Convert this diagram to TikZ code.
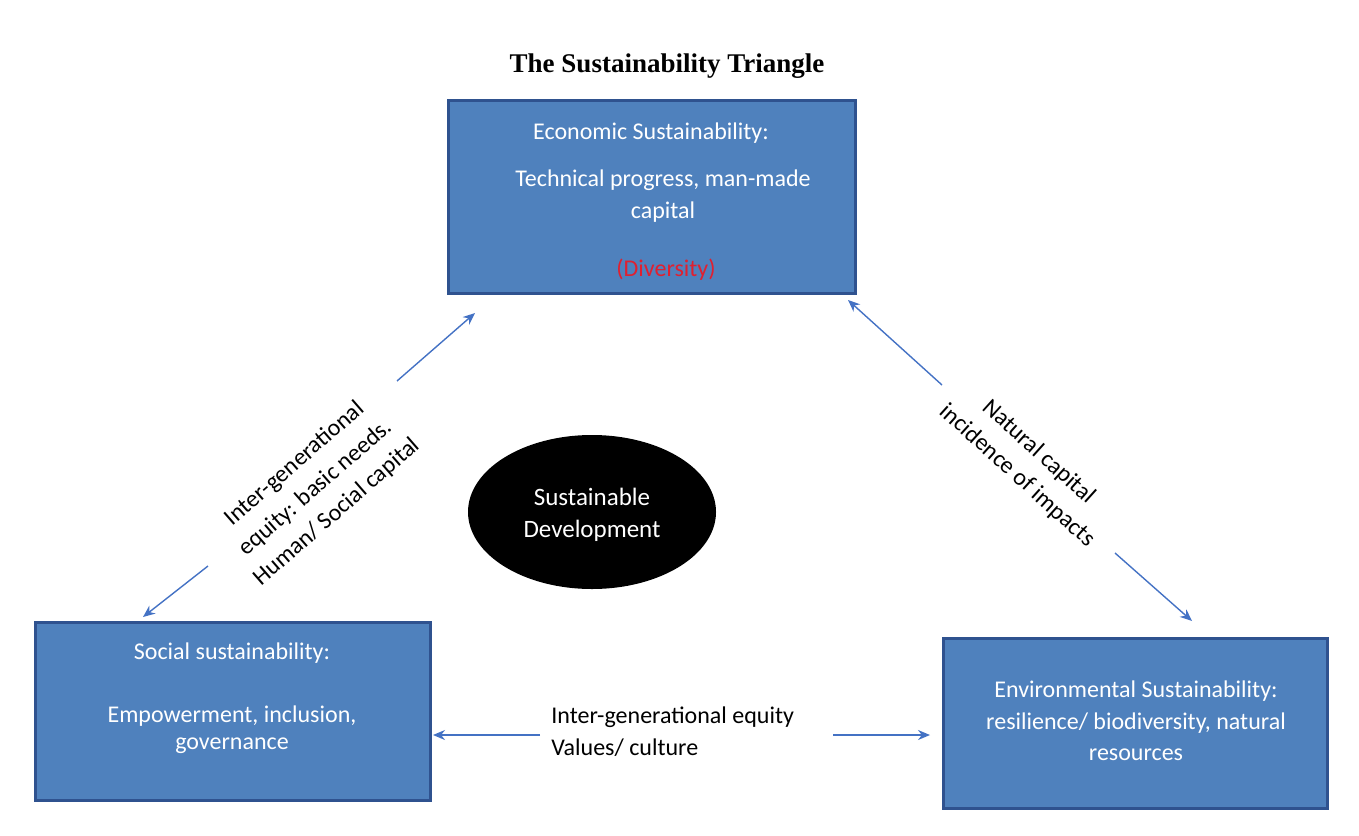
\documentclass[tikz,border=0pt]{standalone}
\usepackage{fontspec}
\setmainfont{Carlito}
\newfontfamily\titlefont{Liberation Serif}
\usetikzlibrary{arrows.meta,shapes.geometric}
\definecolor{boxfill}{HTML}{4F81BD}
\definecolor{boxline}{HTML}{2F528F}
\definecolor{arr}{HTML}{4472C4}
\definecolor{redtxt}{HTML}{E02030}
\begin{document}
\begin{tikzpicture}[x=0.5pt,y=-0.5pt,
  box/.style={draw=boxline,line width=1.5pt,fill=boxfill},
  wt/.style={text=white,font=\fontsize{12}{14}\selectfont,inner sep=0},
  bt/.style={text=black,font=\fontsize{12}{16}\selectfont,inner sep=0},
  ar/.style={draw=arr,line width=0.7pt,-{Stealth[length=6pt,width=5pt]}}]
\useasboundingbox (0,0) rectangle (1359,835);
\node[font=\titlefont\bfseries\fontsize{13.5}{15}\selectfont,inner sep=0] (title) at (667,66) {The Sustainability Triangle};
\draw[box] (448,100) rectangle (855,293);
\draw[box] (35,622) rectangle (430,800);
\draw[box] (943,638) rectangle (1327,808);
\node[ellipse,fill=black,minimum width=124pt,minimum height=77pt,inner sep=0] (sd) at (592,512) {};
\node[wt] (e1) at (651,133) {Economic Sustainability:};
\node[wt] (e2) at (663,180) {Technical progress, man-made};
\node[wt] (e3) at (663,212) {capital};
\node[wt,text=redtxt] (e4) at (666,270) {(Diversity)};
\node[wt] (s1) at (232,653) {Social sustainability:};
\node[wt] (s2) at (232,716) {Empowerment, inclusion,};
\node[wt] (s3) at (232,746) {governance};
\node[wt] (v1) at (1136,691) {Environmental Sustainability:};
\node[wt] (v2) at (1136,723) {resilience/ biodiversity, natural};
\node[wt] (v3) at (1136,755) {resources};
\node[wt,font=\fontsize{12.5}{14}\selectfont] (d1) at (592,497) {Sustainable};
\node[wt,font=\fontsize{12.5}{14}\selectfont] (d2) at (592,531) {Development};
\coordinate (a1) at (397,381); \coordinate (a2) at (475,313);
\coordinate (a3) at (208,566); \coordinate (a4) at (143,617);
\coordinate (b1) at (942,385); \coordinate (b2) at (848,300);
\coordinate (b3) at (1115,553); \coordinate (b4) at (1192,621);
\coordinate (c1) at (540,735); \coordinate (c2) at (433,735);
\coordinate (c3) at (833,735); \coordinate (c4) at (930,735);
\draw[ar] (a1) -- (a2); \draw[ar] (a3) -- (a4);
\draw[ar] (b1) -- (b2); \draw[ar] (b3) -- (b4);
\draw[ar] (c1) -- (c2); \draw[ar] (c3) -- (c4);
\node[bt,rotate=41,align=center] (l1) at (316,488) {Inter-generational\\equity: basic needs.\\Human/ Social capital};
\node[bt,rotate=-42,align=center] (l2) at (1028,464) {Natural capital\\incidence of impacts};
\node[bt,anchor=west] (l3) at (551,717) {Inter-generational equity};
\node[bt,anchor=west] (l4) at (551,748) {Values/ culture};
\end{tikzpicture}
\end{document}
